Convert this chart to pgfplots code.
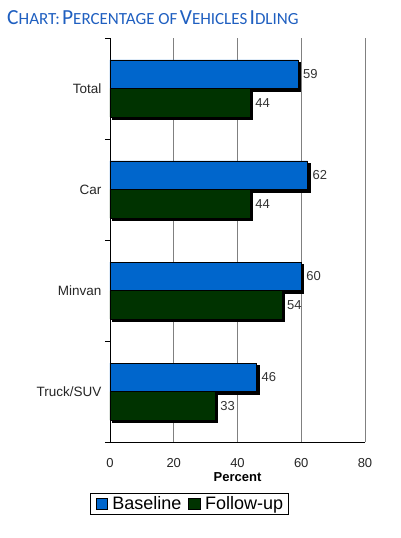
\documentclass[border=0pt]{standalone}
\usepackage{pgfplots}
\pgfplotsset{compat=1.18}
\usepackage{fontspec}
\setmainfont{Liberation Sans}
\newfontfamily\titlefont{Carlito}
\definecolor{baseblue}{HTML}{0066CC}
\definecolor{followgreen}{HTML}{003300}
\definecolor{titleblue}{HTML}{1F5FC0}
\definecolor{gridgray}{HTML}{808080}
\definecolor{valgray}{HTML}{333333}
% fake small caps: first letter big, rest smaller capitals
\newcommand{\bigc}[1]{{\fontsize{21.5bp}{21.5bp}\selectfont #1}}
\newcommand{\smc}[1]{{\fontsize{17bp}{17bp}\selectfont #1}}
\begin{document}
\begin{tikzpicture}
\useasboundingbox (-110bp,-96bp) rectangle (291bp,442bp);
\begin{axis}[
    at={(0,0)}, anchor=south west,
    scale only axis, width=255bp, height=404bp,
    xmin=0, xmax=80, xtick={0,20,40,60,80},
    ymin=-0.5, ymax=3.5,
    ytick={0,1,2,3}, yticklabels={Truck/SUV,Minvan,Car,Total},
    major tick length=0bp,
    extra y ticks={-0.5,0.5,1.5,2.5,3.5}, extra y tick labels={},
    extra y tick style={major tick length=5bp, tick align=outside, tick style={black, line width=0.8bp}},
    xmajorgrids, grid style={gridgray, line width=0.9bp},
    axis x line*=bottom, axis y line*=left,
    axis line style={black, line width=0.9bp, -},
    /pgf/number format/assume math mode=true,
    tick label style={font=\fontsize{13bp}{13bp}\selectfont, text=black!85},
    y tick label style={font=\fontsize{13.5bp}{13.5bp}\selectfont, xshift=-5bp},
    x tick label style={anchor=center, yshift=-21bp},
    xlabel={\textbf{Percent}},
    xlabel style={at={(axis description cs:0.5,-0.0866)}, anchor=center, font=\fontsize{13bp}{13bp}\selectfont},
    xbar, bar width=28.5bp,
    nodes near coords,
    every node near coord/.append style={font=\fontsize{13bp}{13bp}\selectfont, text=valgray, anchor=west, xshift=1.5bp},
    legend style={at={(rel axis cs:-0.078,-0.126)}, anchor=north west, legend columns=2,
        draw=black, line width=0.8bp, font=\fontsize{18bp}{18bp}\selectfont,
        inner xsep=5bp, inner ysep=3.5bp, row sep=0bp,
        nodes={inner sep=0bp},
        /tikz/every odd column/.append style={column sep=4.5bp},
        /tikz/every even column/.append style={column sep=7bp}},
    legend image code/.code={\draw[#1, line width=0.8bp] (0bp,-5.75bp) rectangle (11.5bp,5.75bp);},
]
\addplot[fill=baseblue, draw=black, line width=0.6bp, bar shift=14.25bp, forget plot,
    preaction={fill=black, transform canvas={xshift=2.5bp, yshift=-2.5bp}}]
    coordinates {(59,3) (62,2) (60,1) (46,0)};
\addplot[fill=followgreen, draw=black, line width=0.6bp, bar shift=-14.25bp, forget plot,
    preaction={fill=black, transform canvas={xshift=2.5bp, yshift=-2.5bp}}]
    coordinates {(44,3) (44,2) (54,1) (33,0)};
\addlegendimage{fill=baseblue, draw=black}
\addlegendentry{Baseline}
\addlegendimage{fill=followgreen, draw=black}
\addlegendentry{Follow-up}
\end{axis}
\node[anchor=west, text=titleblue, inner sep=0pt] at (-103bp,424bp)
  {\titlefont\bigc{C}\smc{HART:} \bigc{P}\smc{ERCENTAGE OF} \bigc{V}\smc{EHICLES} \bigc{I}\smc{DLING}};
\end{tikzpicture}
\end{document}
